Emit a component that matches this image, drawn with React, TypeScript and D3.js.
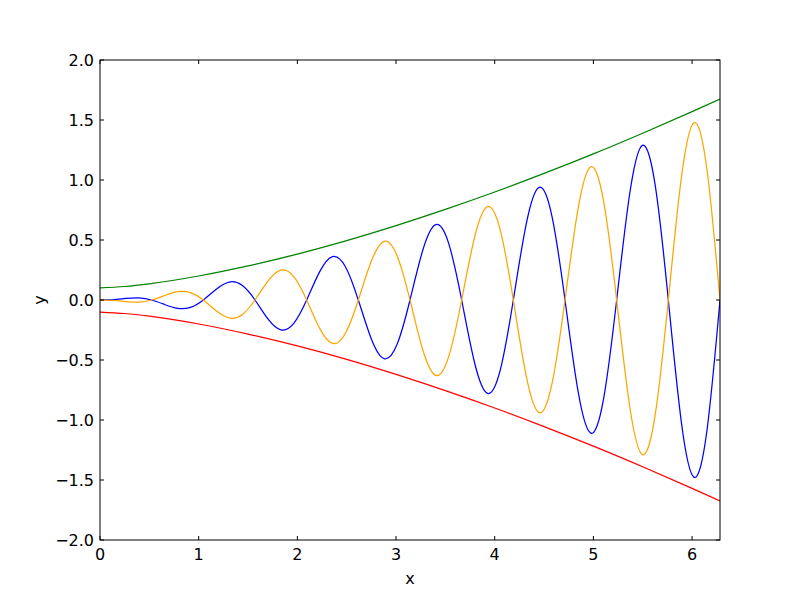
import React from "react";
import * as d3 from "d3";

const xs = [0, 0.1309, 0.2618, 0.3927, 0.5236, 0.6545, 0.7854, 0.9163, 1.0472, 1.1781, 1.309, 1.4399, 1.5708, 1.7017, 1.8326, 1.9635, 2.0944, 2.2253, 2.3562, 2.4871, 2.618, 2.7489, 2.8798, 3.0107, 3.1416, 3.2725, 3.4034, 3.5343, 3.6652, 3.7961, 3.927, 4.0579, 4.1888, 4.3197, 4.4506, 4.5815, 4.7124, 4.8433, 4.9742, 5.1051, 5.236, 5.3669, 5.4978, 5.6287, 5.7596, 5.8905, 6.0214, 6.1523, 6.2832];
const blueY = [0, 0.0034, 0.0134, 0.0174, 0, -0.0374, -0.0696, -0.062, 0, 0.0904, 0.1498, 0.1222, 0, -0.157, -0.2481, -0.1945, 0, 0.2347, 0.3617, 0.2773, 0, -0.3223, -0.4887, -0.3694, 0, 0.4186, 0.6279, 0.4698, 0, -0.523, -0.7782, -0.578, 0, 0.6348, 0.9389, 0.6934, 0, -0.7537, -1.1094, -0.8156, 0, 0.8792, 1.2891, 0.9443, 0, -1.0109, -1.4776, -1.0791, 0];
const orangeY = [0, -0.0034, -0.0134, -0.0174, 0, 0.0374, 0.0696, 0.062, 0, -0.0904, -0.1498, -0.1222, 0, 0.157, 0.2481, 0.1945, 0, -0.2347, -0.3617, -0.2773, 0, 0.3223, 0.4887, 0.3694, 0, -0.4186, -0.6279, -0.4698, 0, 0.523, 0.7782, 0.578, 0, -0.6348, -0.9389, -0.6934, 0, 0.7537, 1.1094, 0.8156, 0, -0.8792, -1.2891, -0.9443, 0, 1.0109, 1.4776, 1.0791, 0];
const envX = [0, 0.25, 0.5, 1, 1.5, 2, 2.5, 3, 3.5, 4, 4.5, 5, 5.5, 6, 6.2832];
const greenY = [0.1, 0.1125, 0.135, 0.2, 0.284, 0.383, 0.495, 0.62, 0.755, 0.9, 1.055, 1.218, 1.39, 1.57, 1.675];
const redY = [-0.1, -0.1125, -0.135, -0.2, -0.284, -0.383, -0.495, -0.62, -0.755, -0.9, -1.055, -1.218, -1.39, -1.57, -1.675];
const xTicks = [0, 1, 2, 3, 4, 5, 6];
const yTicks = [-2.0, -1.5, -1.0, -0.5, 0.0, 0.5, 1.0, 1.5, 2.0];

const L = 100, R = 720, T = 60, B = 540;

export default function App() {
  const x = d3.scaleLinear().domain([0, 2 * Math.PI]).range([L, R]);
  const y = d3.scaleLinear().domain([-2, 2]).range([B, T]);
  const line = (xv: number[], yv: number[], curve: d3.CurveFactory) =>
    d3.line<number>().x((_, i) => x(xv[i])).y((d) => y(d)).curve(curve)(yv) || "";
  const fmtY = (v: number) => (v < 0 ? "\u2212" : "") + Math.abs(v).toFixed(1);
  const font = "DejaVu Sans, sans-serif";
  return (
    <svg width={800} height={600} style={{ position: "absolute", left: 0, top: 0, background: "#fff" }}>
      <rect x={0} y={0} width={800} height={600} fill="#fff" />
      <defs>
        <clipPath id="clip"><rect x={L} y={T} width={R - L} height={B - T} /></clipPath>
      </defs>
      <g clipPath="url(#clip)" fill="none" strokeWidth={1.25}>
        <path d={line(xs, blueY, d3.curveNatural)} stroke="#0000ff" />
        <path d={line(xs, orangeY, d3.curveNatural)} stroke="#ffa500" />
        <path d={line(envX, greenY, d3.curveMonotoneX)} stroke="#008000" />
        <path d={line(envX, redY, d3.curveMonotoneX)} stroke="#ff0000" />
      </g>
      <rect x={L} y={T} width={R - L} height={B - T} fill="none" stroke="#000" strokeWidth={1} />
      {xTicks.map((t) => (
        <g key={"x" + t}>
          <line x1={x(t)} x2={x(t)} y1={B} y2={B - 4} stroke="#000" />
          <line x1={x(t)} x2={x(t)} y1={T} y2={T + 4} stroke="#000" />
          <text x={x(t)} y={B + 20} textAnchor="middle" fontFamily={font} fontSize={16}>{t}</text>
        </g>
      ))}
      {yTicks.map((t) => (
        <g key={"y" + t}>
          <line x1={L} x2={L + 4} y1={y(t)} y2={y(t)} stroke="#000" />
          <line x1={R} x2={R - 4} y1={y(t)} y2={y(t)} stroke="#000" />
          <text x={L - 6} y={y(t)} dy="0.35em" textAnchor="end" fontFamily={font} fontSize={16}>{fmtY(t)}</text>
        </g>
      ))}
      <text x={(L + R) / 2} y={584} textAnchor="middle" fontFamily={font} fontSize={16}>x</text>
      <text transform={`translate(45,${(T + B) / 2}) rotate(-90)`} textAnchor="middle" fontFamily={font} fontSize={16}>y</text>
    </svg>
  );
}
